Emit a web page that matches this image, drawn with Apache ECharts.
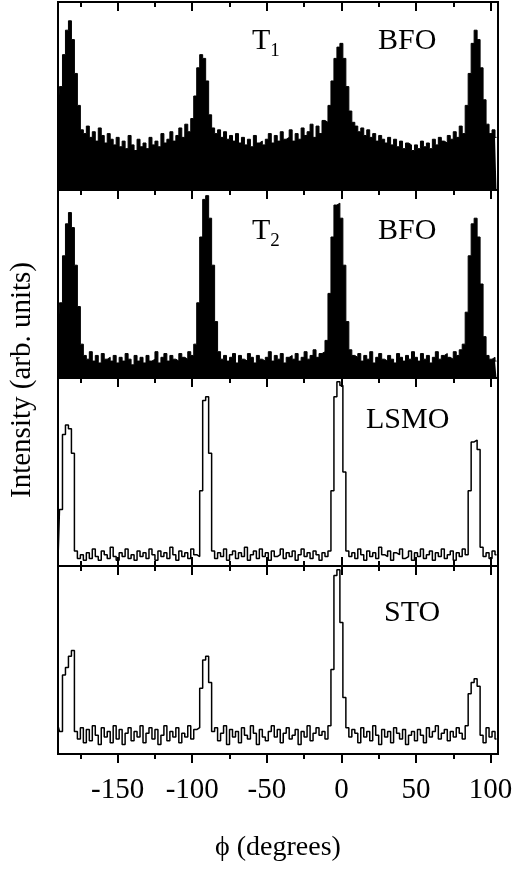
<!DOCTYPE html>
<html>
<head>
<meta charset="utf-8">
<script src="https://cdn.jsdelivr.net/npm/echarts@6/dist/echarts.min.js"></script>
<style>html,body{margin:0;padding:0;background:#fff}#c{width:520px;height:880px}</style>
</head>
<body>
<div id="c"></div>
<script>
// phi from -190 to 104, step 2
var phi = [];
for (var p = -190; p <= 104; p += 2) phi.push(p);

var t1Bfo = [40,55,72,85,90,80,62,45,32,30, 34,28,31,26,33,29,25,30,27,24,
  28,23,26,22,29,24,21,27,23,25, 22,28,24,26,23,30,25,27,31,26,
  29,33,28,35,31,38,50,65,72,70, 58,40,33,30,32,28,31,27,29,26,
  30,25,28,24,27,23,29,25,26,24, 27,30,25,29,26,31,27,28,32,26,
  30,27,33,29,31,35,28,34,30,37, 36,45,58,70,76,78,70,55,42,36,
  34,31,33,29,32,28,30,26,29,27, 25,28,24,27,23,26,22,25,24,21,
  24,22,26,23,25,22,27,24,28,26, 25,29,27,31,28,34,30,45,62,78,
  85,80,65,48,35,30,32,28];
var t2Bfo = [20,40,65,82,88,80,60,38,18,12, 10,14,9,12,8,13,10,11,9,12,
  8,11,9,13,10,7,12,9,11,8, 12,9,10,14,8,11,13,9,12,10,
  9,13,11,10,14,12,18,40,75,95, 97,85,60,30,14,10,12,9,11,13,
  8,12,10,9,13,11,8,12,10,9, 11,14,9,12,10,13,8,11,12,10,
  13,9,11,14,10,12,15,11,13,14, 20,45,75,92,93,85,60,30,15,12,
  11,13,9,12,10,14,8,11,13,10, 9,12,10,8,13,11,9,12,10,14,
  11,9,13,10,12,8,11,14,10,12, 13,11,10,14,12,15,18,35,65,82,
  85,75,50,22,12,10,11,9];
var lsmo = [3,30,70,75,73,60,8,4,6,3, 7,4,9,5,3,8,6,4,10,5,
  3,7,5,9,4,6,3,8,5,7, 4,9,6,3,8,5,7,4,10,6,
  3,8,5,7,4,9,6,5,40,88, 90,60,8,4,7,5,9,3,6,8,
  4,7,5,10,3,6,8,4,9,5, 7,3,8,5,6,9,4,7,5,8,
  3,6,9,5,7,4,8,6,3,7, 5,8,40,90,98,96,50,8,5,7,
  4,9,6,3,8,5,7,4,10,6, 5,8,3,7,6,9,4,5,8,3,
  7,5,9,4,6,8,3,7,5,9, 4,6,8,3,7,5,9,6,40,66,
  67,62,10,5,7,4,8,6];
var sto = [15,12,42,46,52,55,12,8,14,6, 13,7,15,10,5,14,9,12,6,15,
  8,13,5,11,14,7,12,9,15,6, 11,14,8,13,5,10,15,7,12,9,
  14,6,11,9,15,8,13,14,35,50, 52,38,12,14,7,11,15,5,13,9,
  12,6,14,10,8,15,11,5,13,9, 7,12,15,9,13,6,11,14,8,10,
  13,5,12,9,15,7,11,14,10,12, 8,15,45,95,98,70,30,14,9,13,
  11,6,14,9,12,7,15,10,5,13, 9,12,6,14,11,8,13,5,10,12,
  7,13,10,6,14,9,12,15,8,11, 13,7,12,9,14,11,8,15,32,38,
  40,36,10,6,14,9,12,8];

var majorTicks = [-150, -100, -50, 0, 50, 100];
var minorTicks = [-175, -125, -75, -25, 25, 75];

var panels = [t1Bfo, t2Bfo, lsmo, sto];
var filled = [true, true, false, false];
var tops = [2, 190, 378, 566];
var font = 'Liberation Serif';

var chart = echarts.init(document.getElementById('c'));
var grids = [], xAxes = [], yAxes = [], series = [];

function tickAxis(i, pos, vals, len, outside) {
  return {
    type: 'value', gridIndex: i, min: -190, max: 105, position: pos,
    axisLine: {show: false}, splitLine: {show: false},
    axisTick: {inside: !outside, length: len, customValues: vals, lineStyle: {color: '#000', width: 2}},
    axisLabel: {show: false}
  };
}

panels.forEach(function (vals, i) {
  grids.push({left: 58, right: 22, top: tops[i], height: 188, show: true, borderColor: '#000', borderWidth: 2});
  var last = i === 3;
  var main = tickAxis(i, 'bottom', majorTicks, 9, last);
  if (last) {
    main.axisLabel = {show: true, color: '#000', fontFamily: font, fontSize: 29, margin: 22,
      formatter: function (v) { return (v < 0 ? '-' : '') + Math.abs(v); },
      customValues: majorTicks};
    main.name = 'ϕ (degrees)';
    main.nameLocation = 'middle';
    main.nameGap = 80;
    main.nameTextStyle = {color: '#000', fontFamily: font, fontSize: 28};
  }
  xAxes.push(main);
  xAxes.push(tickAxis(i, 'bottom', minorTicks, 5, last));
  xAxes.push(tickAxis(i, 'top', majorTicks, 9, false));
  xAxes.push(tickAxis(i, 'top', minorTicks, 5, false));
  yAxes.push({type: 'value', gridIndex: i, min: 0, max: 100, show: false});
  series.push({
    type: 'line', xAxisIndex: i * 4, yAxisIndex: i, step: 'middle', symbol: 'none',
    data: phi.map(function (x, k) { return [x, vals[k]]; }),
    lineStyle: {color: '#000', width: filled[i] ? 1 : 1.5},
    areaStyle: filled[i] ? {color: '#000', opacity: 1} : null,
    silent: true, animation: false
  });
});

var lbl = {fill: '#000', fontFamily: font, fontSize: 30};
function txt(x, y, s, rich) {
  return {type: 'text', left: x, top: y, style: Object.assign({text: s, rich: rich}, lbl)};
}
var sub = {b: {fontFamily: font, fontSize: 30, fill: '#000'},
           s: {fontFamily: font, fontSize: 19, fill: '#000', padding: [20, 0, 0, 0]}};

chart.setOption({
  animation: false,
  grid: grids, xAxis: xAxes, yAxis: yAxes, series: series,
  graphic: [
    txt(252, 26, '{b|T}{s|1}', sub),
    txt(378, 26, 'BFO'),
    txt(252, 216, '{b|T}{s|2}', sub),
    txt(378, 216, 'BFO'),
    txt(366, 405, 'LSMO'),
    txt(384, 598, 'STO'),
    {type: 'text', x: 22, y: 380, rotation: Math.PI / 2,
     style: {text: 'Intensity (arb. units)', fill: '#000', fontFamily: font, fontSize: 29,
             textAlign: 'center', textVerticalAlign: 'middle'}}
  ]
});
</script>
</body>
</html>
